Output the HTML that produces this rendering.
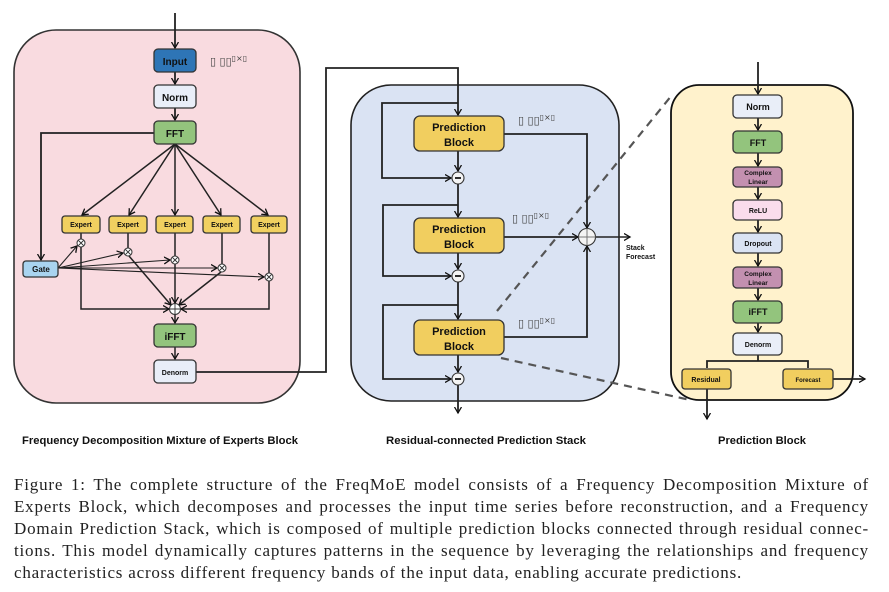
<!DOCTYPE html>
<html><head><meta charset="utf-8"><style>
body{margin:0;background:#fff;width:889px;height:592px;overflow:hidden;position:relative}
svg{position:absolute;left:0;top:0}
.cap{position:absolute;left:14px;width:855px;font-family:"Liberation Serif",serif;font-size:17px;letter-spacing:0.8px;line-height:22px;color:#222}
.cap div{text-align:justify;text-align-last:justify;white-space:nowrap;height:22px}
.cap div.l{text-align-last:left}
</style></head><body>
<svg width="889" height="592" viewBox="0 0 889 592" font-family="Liberation Sans, sans-serif">
<defs>
<marker id="a" markerWidth="8" markerHeight="8" refX="6" refY="4" orient="auto" markerUnits="userSpaceOnUse"><path d="M0,0.5 L6,4 L0,7.5" fill="none" stroke="#111" stroke-width="1.3"/></marker>
</defs>
<rect x="14" y="30" width="286" height="373" rx="42" fill="#f9dbe0" stroke="#333" stroke-width="1.6"/>
<rect x="351" y="85" width="268" height="316" rx="40" fill="#dae3f3" stroke="#222" stroke-width="1.6"/>
<rect x="671" y="85" width="182" height="315" rx="28" fill="#fff2cc" stroke="#111" stroke-width="1.8"/>
<line x1="497" y1="311" x2="672" y2="95" stroke="#555" stroke-width="2.2" stroke-dasharray="8,6"/>
<line x1="501" y1="358" x2="690" y2="400" stroke="#555" stroke-width="2.2" stroke-dasharray="8,6"/>
<g stroke="#222" stroke-width="1.5" fill="none">
<line x1="175" y1="13" x2="175" y2="48" marker-end="url(#a)" stroke-width="1.8"/>
<line x1="175" y1="72" x2="175" y2="84" marker-end="url(#a)" stroke-width="1.8"/>
<line x1="175" y1="108" x2="175" y2="120" marker-end="url(#a)" stroke-width="1.8"/>
<polyline points="154,133 41,133 41,260" marker-end="url(#a)" stroke-width="1.8"/>
<line x1="175" y1="144" x2="82" y2="215" marker-end="url(#a)"/>
<line x1="175" y1="144" x2="129" y2="215" marker-end="url(#a)"/>
<line x1="175" y1="144" x2="175" y2="215" marker-end="url(#a)"/>
<line x1="175" y1="144" x2="221" y2="215" marker-end="url(#a)"/>
<line x1="175" y1="144" x2="268" y2="215" marker-end="url(#a)"/>
<line x1="81" y1="233" x2="81" y2="239"/><line x1="128" y1="233" x2="128" y2="248"/><line x1="175" y1="233" x2="175" y2="256"/><line x1="222" y1="233" x2="222" y2="264"/><line x1="269" y1="233" x2="269" y2="273"/>
<g stroke-width="1.1">
<line x1="58" y1="268" x2="77" y2="246" marker-end="url(#a)"/>
<line x1="58" y1="268" x2="123" y2="253" marker-end="url(#a)"/>
<line x1="58" y1="268" x2="170" y2="260" marker-end="url(#a)"/>
<line x1="58" y1="268" x2="217" y2="268" marker-end="url(#a)"/>
<line x1="58" y1="268" x2="264" y2="277" marker-end="url(#a)"/>
</g>
<polyline points="81,247 81,309 169,309" marker-end="url(#a)"/>
<polyline points="269,281 269,309 181,309" marker-end="url(#a)"/>
<line x1="129" y1="256" x2="171" y2="305" marker-end="url(#a)"/>
<line x1="221" y1="272" x2="179" y2="305" marker-end="url(#a)"/>
<line x1="175" y1="264" x2="175" y2="303" marker-end="url(#a)"/>
<line x1="175" y1="314" x2="175" y2="323" marker-end="url(#a)"/>
<line x1="175" y1="347" x2="175" y2="359" marker-end="url(#a)"/>
<polyline points="196,372 326,372 326,68 458,68 458,115" marker-end="url(#a)" stroke-width="1.8"/>
<polyline points="458,103 382,103 382,178 451,178" marker-end="url(#a)" stroke-width="1.8"/>
<line x1="458" y1="151" x2="458" y2="171" marker-end="url(#a)" stroke-width="1.8"/>
<polyline points="458,184 458,217" marker-end="url(#a)" stroke-width="1.8"/>
<polyline points="458,205 383,205 383,276 451,276" marker-end="url(#a)" stroke-width="1.8"/>
<line x1="458" y1="253" x2="458" y2="269" marker-end="url(#a)" stroke-width="1.8"/>
<polyline points="458,282 458,319" marker-end="url(#a)" stroke-width="1.8"/>
<polyline points="458,305 383,305 383,379 451,379" marker-end="url(#a)" stroke-width="1.8"/>
<line x1="458" y1="355" x2="458" y2="372" marker-end="url(#a)" stroke-width="1.8"/>
<line x1="458" y1="385" x2="458" y2="413" marker-end="url(#a)" stroke-width="1.8"/>
<polyline points="504,134 587,134 587,228" marker-end="url(#a)" stroke-width="1.8"/>
<line x1="504" y1="237" x2="578" y2="237" marker-end="url(#a)" stroke-width="1.8"/>
<polyline points="504,337 587,337 587,246" marker-end="url(#a)" stroke-width="1.8"/>
<line x1="595" y1="237" x2="630" y2="237" marker-end="url(#a)" stroke-width="1.6"/>
<g stroke-width="1.8">
<line x1="758" y1="62" x2="758" y2="94" marker-end="url(#a)"/>
<line x1="758" y1="118" x2="758" y2="130" marker-end="url(#a)"/>
<line x1="758" y1="153" x2="758" y2="166" marker-end="url(#a)"/>
<line x1="758" y1="187" x2="758" y2="199" marker-end="url(#a)"/>
<line x1="758" y1="220" x2="758" y2="232" marker-end="url(#a)"/>
<line x1="758" y1="253" x2="758" y2="266" marker-end="url(#a)"/>
<line x1="758" y1="288" x2="758" y2="300" marker-end="url(#a)"/>
<line x1="758" y1="323" x2="758" y2="332" marker-end="url(#a)"/>
<line x1="758" y1="355" x2="758" y2="361"/>
<polyline points="707,368 707,361 808,361 808,368" />
<line x1="707" y1="389" x2="707" y2="419" marker-end="url(#a)"/>
<line x1="833" y1="379" x2="865" y2="379" marker-end="url(#a)"/>
</g>
</g>
<g stroke="#333" stroke-width="1.3" font-weight="bold" text-anchor="middle">
<rect x="154" y="49" width="42" height="23" rx="4" fill="#2e75b6"/><text x="175" y="65" font-size="10" fill="#111" stroke="none">Input</text>
<rect x="154" y="85" width="42" height="23" rx="4" fill="#e9eef8"/><text x="175" y="101" font-size="10" fill="#111" stroke="none">Norm</text>
<rect x="154" y="121" width="42" height="23" rx="4" fill="#93c47d"/><text x="175" y="137" font-size="10" fill="#111" stroke="none">FFT</text>
<g font-size="7">
<rect x="62" y="216" width="38" height="17" rx="3" fill="#f1d060"/><text x="81" y="227" stroke="none" fill="#111">Expert</text>
<rect x="109" y="216" width="38" height="17" rx="3" fill="#f1d060"/><text x="128" y="227" stroke="none" fill="#111">Expert</text>
<rect x="156" y="216" width="37" height="17" rx="3" fill="#f1d060"/><text x="175" y="227" stroke="none" fill="#111">Expert</text>
<rect x="203" y="216" width="37" height="17" rx="3" fill="#f1d060"/><text x="222" y="227" stroke="none" fill="#111">Expert</text>
<rect x="251" y="216" width="36" height="17" rx="3" fill="#f1d060"/><text x="269" y="227" stroke="none" fill="#111">Expert</text>
</g>
<rect x="23" y="261" width="35" height="16" rx="3" fill="#a9d4f0"/><text x="41" y="272" font-size="8" stroke="none" fill="#111">Gate</text>
<rect x="154" y="324" width="42" height="23" rx="4" fill="#93c47d"/><text x="175" y="340" font-size="10" fill="#111" stroke="none">iFFT</text>
<rect x="154" y="360" width="42" height="23" rx="4" fill="#e9eef8"/><text x="175" y="375" font-size="7" fill="#111" stroke="none">Denorm</text>
</g>
<g fill="#fff" stroke="#333" stroke-width="1">
<circle cx="81" cy="243" r="4"/><circle cx="128" cy="252" r="4"/><circle cx="175" cy="260" r="4"/><circle cx="222" cy="268" r="4"/><circle cx="269" cy="277" r="4"/>
<circle cx="175" cy="309" r="5.5"/>
</g>
<g stroke="#333" stroke-width="0.9">
<path d="M78.5,240.5l5,5m0,-5l-5,5 M125.5,249.5l5,5m0,-5l-5,5 M172.5,257.5l5,5m0,-5l-5,5 M219.5,265.5l5,5m0,-5l-5,5 M266.5,274.5l5,5m0,-5l-5,5 M175,303.5v11 M169.5,309h11"/>
</g>
<g stroke="#333" stroke-width="1.3" text-anchor="middle" font-weight="bold" font-size="11">
<rect x="414" y="116" width="90" height="35" rx="6" fill="#f1ce5f"/><text x="459" y="131" stroke="none" fill="#111">Prediction</text><text x="459" y="146" stroke="none" fill="#111">Block</text>
<rect x="414" y="218" width="90" height="35" rx="6" fill="#f1ce5f"/><text x="459" y="233" stroke="none" fill="#111">Prediction</text><text x="459" y="248" stroke="none" fill="#111">Block</text>
<rect x="414" y="320" width="90" height="35" rx="6" fill="#f1ce5f"/><text x="459" y="335" stroke="none" fill="#111">Prediction</text><text x="459" y="350" stroke="none" fill="#111">Block</text>
</g>
<g fill="#f4f4f4" stroke="#333" stroke-width="1.1">
<circle cx="458" cy="178" r="6"/><circle cx="458" cy="276" r="6"/><circle cx="458" cy="379" r="6"/>
<circle cx="587" cy="237" r="8.5"/>
</g>
<g stroke="#111" stroke-width="1.8"><path d="M455,178h6 M455,276h6 M455,379h6"/></g>
<path d="M587,228.5v17 M578.5,237h17" stroke="#777" stroke-width="1"/>
<text x="626" y="250" font-size="7" font-weight="bold" fill="#111">Stack</text>
<text x="626" y="259" font-size="7" font-weight="bold" fill="#111">Forecast</text>
<g font-size="11" fill="#444" font-family="DejaVu Sans, sans-serif">
<text x="210" y="65">▯ ▯▯<tspan font-size="8" dy="-4">▯×▯</tspan></text>
<text x="518" y="124">▯ ▯▯<tspan font-size="8" dy="-4">▯×▯</tspan></text>
<text x="512" y="222">▯ ▯▯<tspan font-size="8" dy="-4">▯×▯</tspan></text>
<text x="518" y="327">▯ ▯▯<tspan font-size="8" dy="-4">▯×▯</tspan></text>
</g>
<g stroke="#333" stroke-width="1.3" text-anchor="middle" font-weight="bold">
<rect x="733" y="95" width="49" height="23" rx="4" fill="#e9eef8"/><text x="758" y="110" font-size="9" stroke="none" fill="#111">Norm</text>
<rect x="733" y="131" width="49" height="22" rx="4" fill="#93c47d"/><text x="758" y="146" font-size="9" stroke="none" fill="#111">FFT</text>
<rect x="733" y="167" width="49" height="20" rx="4" fill="#c390b0"/><text x="758" y="175" font-size="6.5" stroke="none" fill="#111">Complex</text><text x="758" y="184" font-size="6.5" stroke="none" fill="#111">Linear</text>
<rect x="733" y="200" width="49" height="20" rx="4" fill="#fadcec"/><text x="758" y="213" font-size="7" stroke="none" fill="#111">ReLU</text>
<rect x="733" y="233" width="49" height="20" rx="4" fill="#dae3f3"/><text x="758" y="246" font-size="7" stroke="none" fill="#111">Dropout</text>
<rect x="733" y="267" width="49" height="21" rx="4" fill="#c390b0"/><text x="758" y="276" font-size="6.5" stroke="none" fill="#111">Complex</text><text x="758" y="285" font-size="6.5" stroke="none" fill="#111">Linear</text>
<rect x="733" y="301" width="49" height="22" rx="4" fill="#93c47d"/><text x="758" y="315" font-size="9" stroke="none" fill="#111">iFFT</text>
<rect x="733" y="333" width="49" height="22" rx="4" fill="#e9eef8"/><text x="758" y="347" font-size="7" stroke="none" fill="#111">Denorm</text>
<rect x="682" y="369" width="49" height="20" rx="3" fill="#f1ce5f"/><text x="706" y="382" font-size="7" stroke="none" fill="#111">Residual</text>
<rect x="783" y="369" width="50" height="20" rx="3" fill="#f1ce5f"/><text x="808" y="382" font-size="6" stroke="none" fill="#111">Forecast</text>
</g>
<g font-size="11" font-weight="bold" fill="#111" text-anchor="middle">
<text x="160" y="444" textLength="276" lengthAdjust="spacingAndGlyphs">Frequency Decomposition Mixture of Experts Block</text>
<text x="486" y="444" textLength="200" lengthAdjust="spacingAndGlyphs">Residual-connected  Prediction Stack</text>
<text x="762" y="444" textLength="88" lengthAdjust="spacingAndGlyphs">Prediction Block</text>
</g>
</svg>
<div class="cap" style="top:474px">
<div>Figure 1:  The complete structure of the FreqMoE model consists of a Frequency Decomposition Mixture of</div>
<div>Experts Block, which decomposes and processes the input time series before reconstruction, and a Frequency</div>
<div>Domain Prediction Stack, which is composed of multiple prediction blocks connected through residual connec-</div>
<div>tions. This model dynamically captures patterns in the sequence by leveraging the relationships and frequency</div>
<div class="l">characteristics across different frequency bands of the input data, enabling accurate predictions.</div>
</div>
</body></html>
